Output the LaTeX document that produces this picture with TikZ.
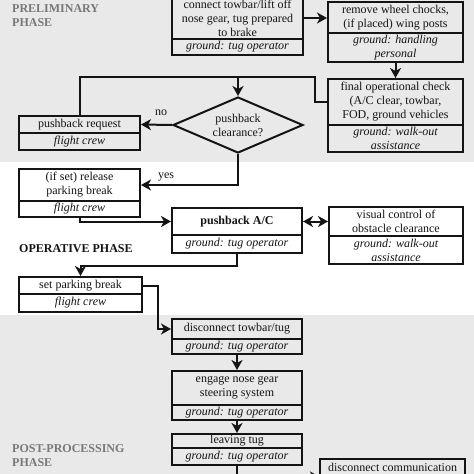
\documentclass[tikz,border=0pt]{standalone}
\usepackage{fontspec}
\setmainfont{Liberation Serif}
\usetikzlibrary{arrows.meta,shapes.geometric,calc}
\definecolor{bandgray}{RGB}{233,233,233}
\definecolor{phasegray}{RGB}{120,120,120}
\definecolor{ink}{RGB}{20,20,20}
\newcommand{\twobox}[8]{%
  \pgfmathsetmacro\bw{#3-#2}%
  \pgfmathsetmacro\hA{#5-#4}%
  \pgfmathsetmacro\hB{#6-#5}%
  \node[part, minimum width=\bw pt, minimum height=\hA pt] (#1-t) at ({(#2+#3)/2},{(#4+#5)/2}) {#7};
  \node[part, minimum width=\bw pt, minimum height=\hB pt, font=\fontsize{12}{14}\selectfont\itshape] (#1-b) at ({(#2+#3)/2},{(#5+#6)/2}) {#8};
}
\begin{document}
\begin{tikzpicture}[x=1pt,y=-1pt,
  part/.style={draw=ink, line width=2pt, rectangle, inner sep=0pt, align=center, text=ink,
    font=\fontsize{12}{14}\selectfont},
  link/.style={draw=ink, line width=2pt},
  arr/.style={link, -{Stealth[length=10pt,width=11pt,inset=3pt]}},
  darr/.style={link, {Stealth[length=10pt,width=11pt,inset=3pt]}-{Stealth[length=10pt,width=11pt,inset=3pt]}},
  phase/.style={anchor=north west, inner sep=0pt, align=left, text=phasegray,
    font=\fontsize{12}{14}\selectfont\bfseries},
  lbl/.style={inner sep=0pt, text=ink, font=\fontsize{12}{14}\selectfont}]
\clip (0,0) rectangle (474,474);
\fill[white] (0,0) rectangle (474,474);
\fill[bandgray] (0,0) rectangle (474,162);
\fill[bandgray] (0,315) rectangle (474,474);

\node[phase] (pre) at (12,4) {PRELIMINARY\\PHASE};
\node[phase] (post) at (12,444) {POST-PROCESSING\\PHASE};
\node[lbl, anchor=west, font=\fontsize{12}{14}\selectfont\bfseries] (op) at (19,249) {OPERATIVE PHASE};

\twobox{A}{172}{303}{-3}{39}{55}{connect towbar/lift off\\nose gear, tug prepared\\to brake}{ground: tug operator}
\twobox{B}{328}{463}{2}{33}{62}{remove wheel chocks,\\(if placed) wing posts}{ground: handling\\personal}
\twobox{C}{328}{463}{79}{125}{152}{final operational check\\(A/C clear, towbar,\\FOD, ground vehicles}{ground: walk-out\\assistance}
\twobox{E}{19}{140}{116}{133}{150}{pushback request}{flight crew}
\twobox{F}{19}{140}{169}{201}{217}{(if set) release\\parking break}{flight crew}
\twobox{G}{172}{302}{208}{235}{253}{\textbf{pushback A/C}}{ground: tug operator}
\twobox{H}{329}{463}{207}{236}{264}{visual control of\\obstacle clearance}{ground: walk-out\\assistance}
\twobox{I}{19}{142}{277}{294}{312}{set parking break}{flight crew}
\twobox{J}{172}{302}{319}{339}{354}{disconnect towbar/tug}{ground: tug operator}
\twobox{K}{172}{302}{371}{405}{420}{engage nose gear\\steering system}{ground: tug operator}
\twobox{L}{172}{302}{434}{448}{465}{leaving tug}{ground: tug operator}
\twobox{M}{320}{465}{459}{476}{495}{disconnect communication}{}

\node[draw=ink, line width=2pt, shape=diamond, aspect=2.32, minimum width=130pt, minimum height=56pt,
  inner sep=0pt, align=center, text=ink, font=\fontsize{12}{14}\selectfont] (D) at (238,125) {pushback\\clearance?};

\coordinate (join) at (238,77);
\coordinate (mIn) at (320,477);

\node[lbl] (no) at (161,113) {no};
\node[lbl] (yes) at (166,177) {yes};

\draw[arr] (A-t.east) -- (A-t.east -| B-t.west);
\draw[arr] (B-b.south) -- (C-t.north);
\draw[link] (C-t.west) -- ++(-12,0) |- (join);
\draw[link] (E-t.north) |- (join);
\draw[arr] (join) -- (D.north);
\draw[arr] (D.west) -- (E-t.east);
\draw[arr] (D.south) |- (F-t.east);
\draw[arr] (F-b.south) |- (G-t.west);
\draw[darr] (G-t.east) -- (H-t.west);
\draw[arr] (G-b.south) -- ++(0,12) -| (I-t.north);
\draw[arr] (I-t.east) -- ++(15,0) |- (J-t.west);
\draw[arr] (J-b.south) -- (K-t.north);
\draw[arr] (K-b.south) -- (L-t.north);
\draw[arr] (L-b.south) |- (mIn);
\end{tikzpicture}
\end{document}
